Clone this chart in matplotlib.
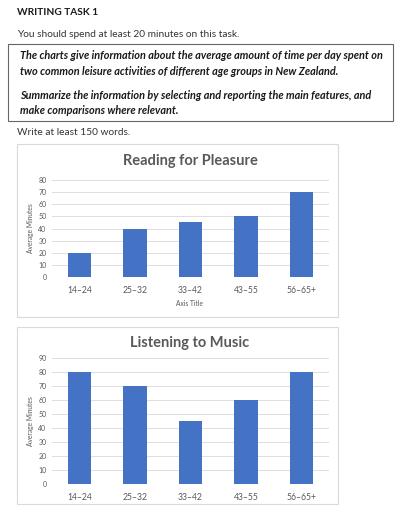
import matplotlib
matplotlib.use("Agg")
import matplotlib.pyplot as plt
from matplotlib.patches import Rectangle

plt.rcParams['font.family'] = ['Lato', 'DejaVu Sans']

age_groups = ["14–24", "25–32", "33–42", "43–55", "56–65+"]
reading_minutes = [20, 40, 45, 50, 70]
music_minutes = [80, 70, 45, 60, 80]
reading_ticks = [0, 10, 20, 30, 40, 50, 60, 70, 80]
music_ticks = [0, 10, 20, 30, 40, 50, 60, 70, 80, 90]

W, H = 400, 512
fig = plt.figure(figsize=(W / 100, H / 100), dpi=100)
fig.patch.set_facecolor("white")

def fy(y):
    return 1 - y / H

def fx(x):
    return x / W

txt = "#1a1a1a"
fig.text(fx(17), fy(15), "WRITING TASK 1", fontsize=7.3, fontweight="bold", color=txt, va="baseline")
fig.text(fx(17), fy(37), "You should spend at least 20 minutes on this task.", fontsize=7.3, color="#333333", va="baseline")
fig.patches.append(Rectangle((fx(8), fy(121)), fx(393 - 8), (121 - 44) / H, transform=fig.transFigure,
                             fill=False, edgecolor="#666666", linewidth=0.8))
box_lines = [
    (59, "The charts give information about the average amount of time per day spent on"),
    (75, "two common leisure activities of different age groups in New Zealand."),
    (99, "Summarize the information by selecting and reporting the main features, and"),
    (114, "make comparisons where relevant."),
]
for y, s in box_lines:
    fig.text(fx(20), fy(y), s, fontsize=7.8, fontweight="bold", fontstyle="italic", color=txt, va="baseline")
fig.text(fx(17), fy(135), "Write at least 150 words.", fontsize=7.3, color="#333333", va="baseline")

grey = "#595959"
bar_color = "#4472C4"

def panel(top, bottom, ax_top, ax_bottom, title, title_y, values, ticks, ymax, axis_title):
    fig.patches.append(Rectangle((fx(17), fy(bottom)), fx(338 - 17), (bottom - top) / H,
                                 transform=fig.transFigure, fill=False, edgecolor="#d9d9d9", linewidth=0.8))
    ax = fig.add_axes([fx(52), fy(ax_bottom), fx(329 - 52), (ax_bottom - ax_top) / H])
    x = range(len(age_groups))
    ax.bar(x, values, width=0.42, color=bar_color, zorder=3)
    ax.set_ylim(0, ymax)
    ax.set_xlim(-0.5, len(age_groups) - 0.5)
    ax.set_yticks(ticks)
    ax.set_yticklabels([str(t) for t in ticks], fontsize=5, color=grey)
    ax.set_xticks(list(x))
    ax.set_xticklabels(age_groups, fontsize=6.2, color=grey)
    ax.tick_params(axis="y", length=0, pad=4)
    ax.tick_params(axis="x", length=0, pad=6.5)
    ax.grid(axis="y", color="#d9d9d9", linewidth=0.6, zorder=0)
    for s in ax.spines.values():
        s.set_visible(False)
    ax.set_ylabel("Average Minutes", fontsize=4.8, color=grey, labelpad=3)
    fig.text(fx(190), fy(title_y), title, fontsize=10.5, fontweight="bold", color=grey, ha="center", va="center")
    if axis_title:
        fig.text(fx(190), fy(303), axis_title, fontsize=4.8, color=grey, ha="center", va="center")
    return ax

panel(144, 317, 180, 277, "Reading for Pleasure", 161, reading_minutes, reading_ticks, 80, "Axis Title")
panel(327, 504, 358, 484, "Listening to Music", 343, music_minutes, music_ticks, 90, None)

fig.savefig("out.png", dpi=100, facecolor="white")
